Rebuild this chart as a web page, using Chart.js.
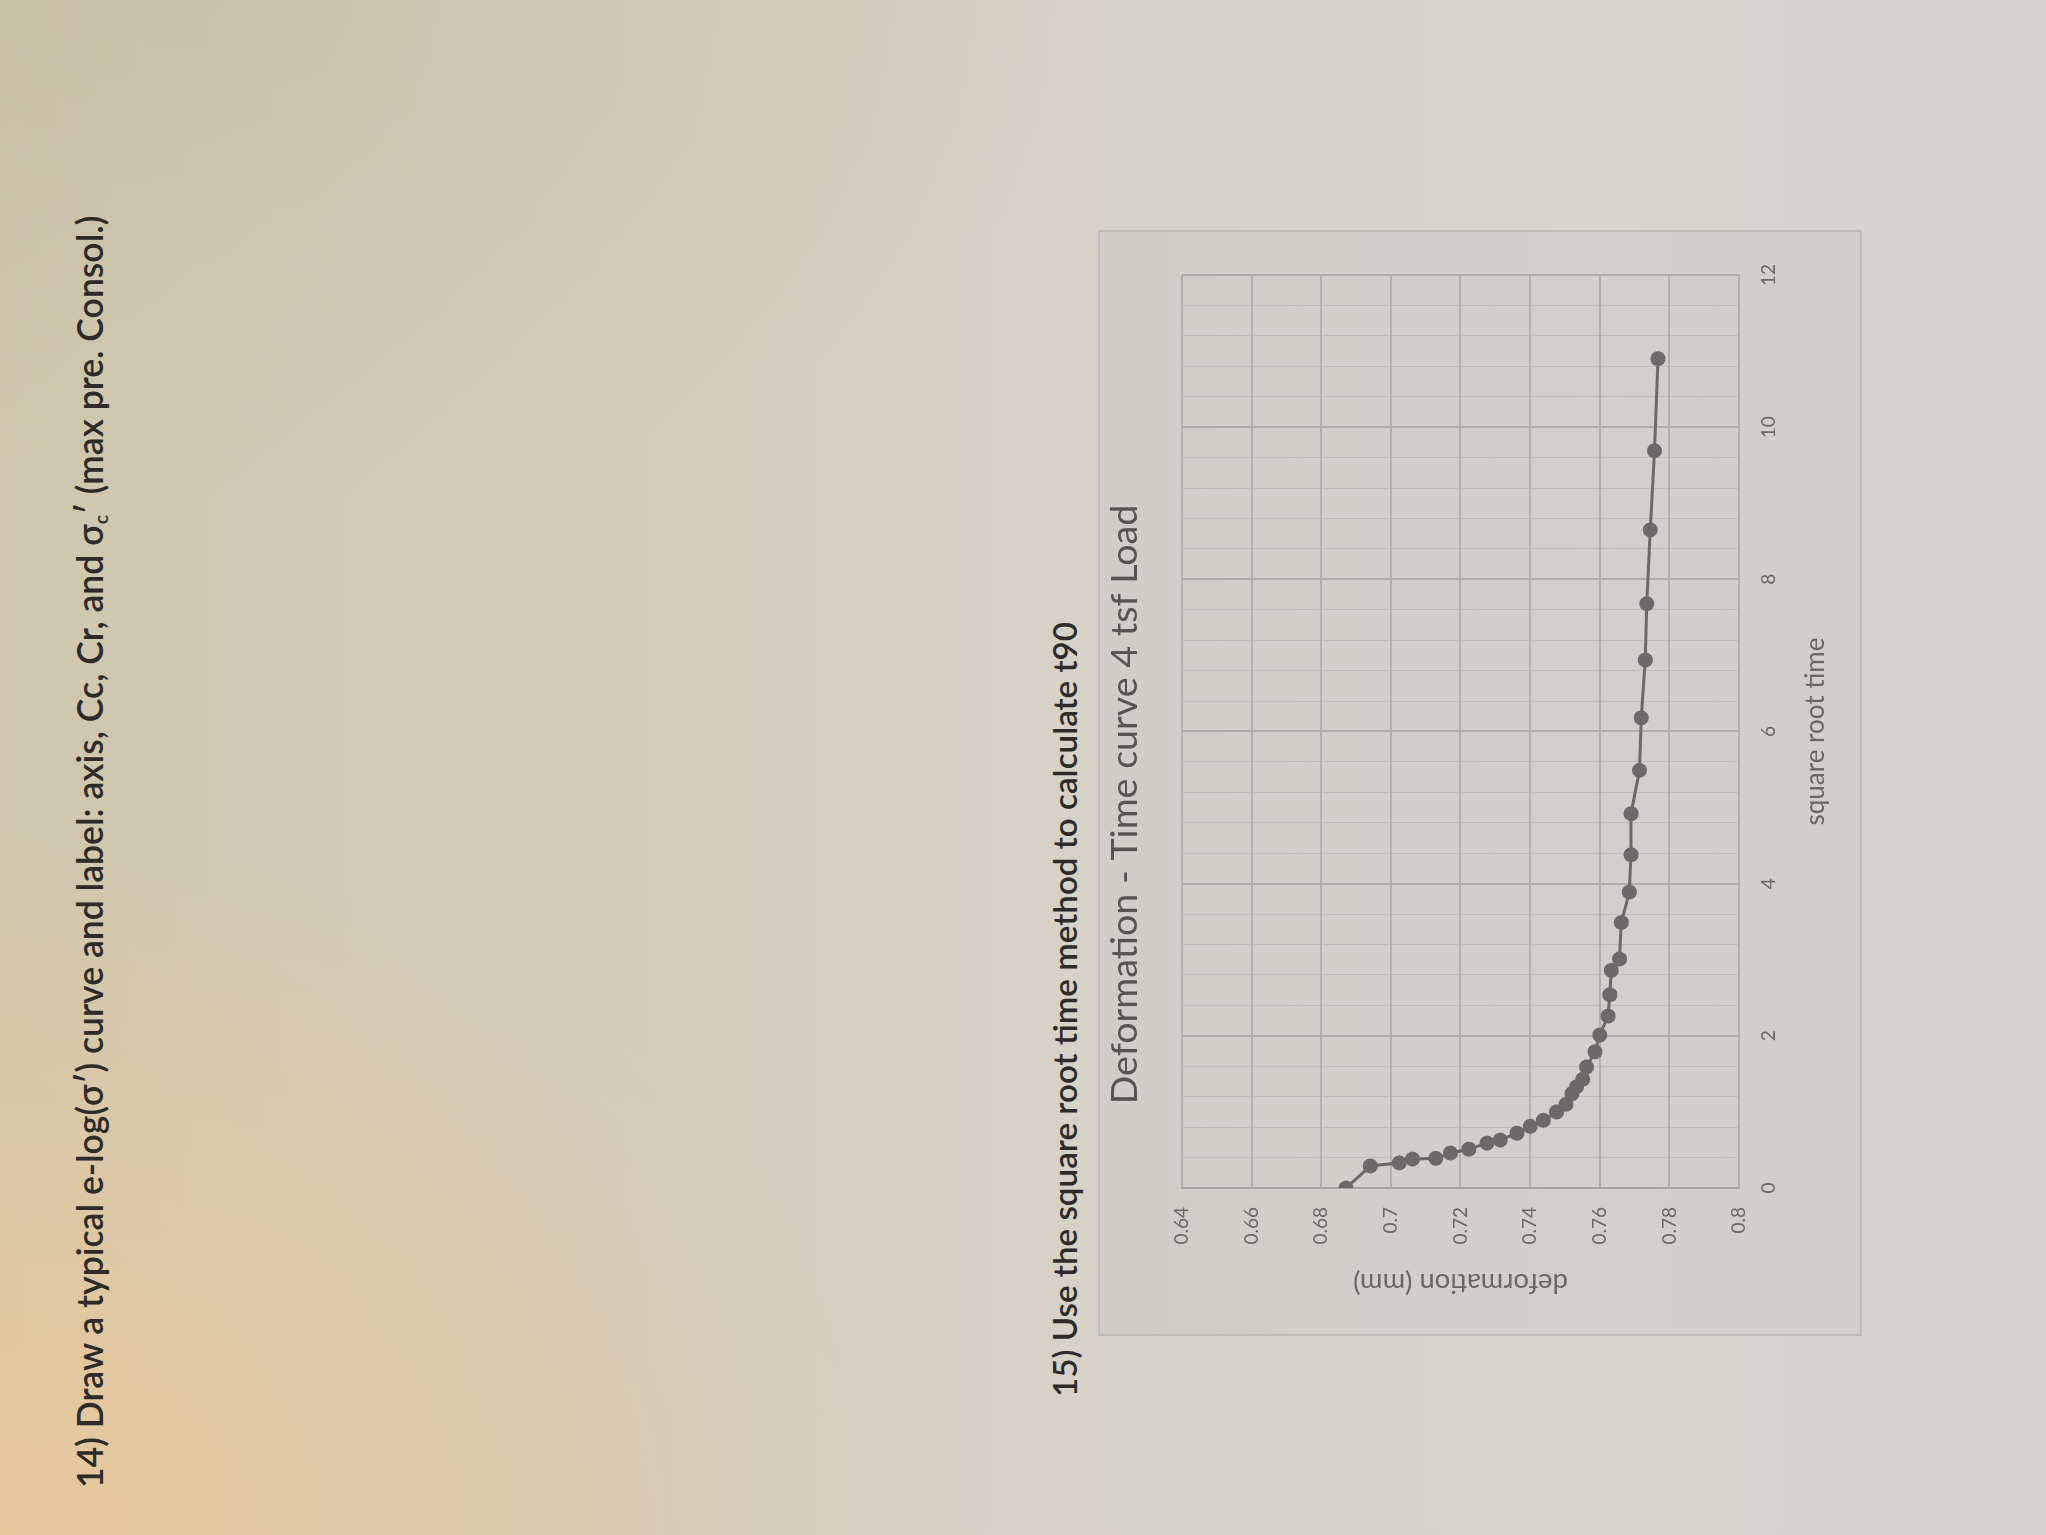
<!DOCTYPE html>
<html>
<head>
<meta charset="utf-8">
<script src="https://cdn.jsdelivr.net/npm/chart.js@4.4.1/dist/chart.umd.min.js"></script>
<style>
  html, body { margin:0; padding:0; }
  body {
    width:2046px; height:1535px; overflow:hidden; position:relative;
    background:
      radial-gradient(ellipse 900px 700px at 0px 1535px, rgba(236,200,152,0.85), rgba(236,200,152,0) 100%),
      radial-gradient(ellipse 900px 500px at 200px 0px, rgba(192,184,156,0.45), rgba(192,184,156,0) 100%),
      linear-gradient(90deg, #cfc6ad 0%, #d4cdbc 28%, #d6d2c8 52%, #d8d6d0 78%, #d5d3d1 100%);
  }
  #page {
    position:absolute; left:0; top:0; width:1535px; height:2046px;
    transform-origin:0 0; transform: translate(0, 1535px) rotate(-90deg);
  }
  .q {
    position:absolute; white-space:nowrap; display:inline-block;
    font-family: Lato, "Open Sans", sans-serif; font-weight:600; color:#2f2b28;
    transform: translateY(-50%); line-height:1.2;
  }
  .q sub { font-size:0.55em; vertical-align:-0.25em; }
  #chartBox {
    position:absolute; left:201px; top:1100px; width:1102px; height:760px;
    background: rgba(198,194,198,0.32);
    outline: 2px solid #c0bcb8;
  }
  #chartBox canvas { display:block; }
</style>
</head>
<body>
<div id="page">
  <div id="q14" class="q" style="left:47px; top:91px;">14) Draw a typical e-log(σ′) curve and label: axis, Cc, Cr, and σ<sub>c</sub>′ (max pre. Consol.)</div>
  <div id="q15" class="q" style="left:138px; top:1065px;">15) Use the square root time method to calculate t90</div>
  <div id="chartBox"><canvas id="c" width="1102" height="760"></canvas></div>
</div>
<script>
// ---- data ----
const chartTitle = 'Deformation - Time curve 4 tsf Load';
const xAxisTitle = 'square root time';
const yAxisTitle = 'deformation (mm)';

const sqrtTime = [0, 0.29, 0.33, 0.38, 0.39, 0.46, 0.51, 0.59, 0.63, 0.72, 0.81, 0.89, 1.00, 1.10, 1.24, 1.33, 1.43, 1.59, 1.79, 2.01, 2.26, 2.54, 2.86, 3.01, 3.49, 3.89, 4.38, 4.92, 5.49, 6.18, 6.94, 7.68, 8.65, 9.69, 10.90];
const deformation = [0.6871, 0.6941, 0.7024, 0.7062, 0.7129, 0.7171, 0.7224, 0.7276, 0.7314, 0.7362, 0.7400, 0.7438, 0.7476, 0.7503, 0.7520, 0.7533, 0.7551, 0.7562, 0.7586, 0.7600, 0.7624, 0.7629, 0.7633, 0.7657, 0.7662, 0.7685, 0.7690, 0.7690, 0.7714, 0.7719, 0.7731, 0.7735, 0.7745, 0.7757, 0.7767];

const timeTickValues = [0, 2, 4, 6, 8, 10, 12];
const timeTickLabels = ['0', '2', '4', '6', '8', '10', '12'];
const deformationTickValues = [0.64, 0.66, 0.68, 0.70, 0.72, 0.74, 0.76, 0.78, 0.80];
const deformationTickLabels = ['0.64', '0.66', '0.68', '0.7', '0.72', '0.74', '0.76', '0.78', '0.8'];

// ---- text fitting helpers ----
function fitHtml(id, target) {
  const el = document.getElementById(id);
  el.style.fontSize = '30px';
  const w = el.offsetWidth;
  el.style.fontSize = (30 * target / w).toFixed(2) + 'px';
}
fitHtml('q14', 1273);
fitHtml('q15', 775);

const FAMILY = 'Lato, "Open Sans", sans-serif';
const mctx = document.createElement('canvas').getContext('2d');
function fitSize(text, target) {
  mctx.font = '100px ' + FAMILY;
  return 100 * target / mctx.measureText(text).width;
}
const titleSize = fitSize(chartTitle, 600);
const xTitleSize = fitSize(xAxisTitle, 188);
const yTitleSize = fitSize(yAxisTitle, 215);

const titlePadTop = 25 - 0.6 * titleSize;
const titlePadBottom = 82 - titlePadTop - 1.2 * titleSize;

const majorGrid = '#b3afae';
const minorGrid = '#c2bebd';
const textColor = '#6a6767';
const markColor = '#6c696b';

new Chart(document.getElementById('c'), {
  type: 'scatter',
  data: {
    datasets: [{
      data: sqrtTime.map((t, i) => ({ x: t, y: deformation[i] })),
      showLine: true,
      borderColor: markColor,
      backgroundColor: markColor,
      borderWidth: 3,
      pointRadius: 7.5,
      pointHoverRadius: 7.5,
      pointBorderWidth: 0,
      xAxisID: 'x',
      yAxisID: 'y'
    }]
  },
  options: {
    responsive: false,
    animation: false,
    devicePixelRatio: 1,
    layout: { padding: { left: 0, right: 43, top: 0, bottom: 0 } },
    plugins: {
      legend: { display: false },
      tooltip: { enabled: false },
      title: {
        display: true,
        text: chartTitle,
        color: '#575554',
        font: { family: FAMILY, size: titleSize, weight: 'normal', lineHeight: 1.2 },
        padding: { top: titlePadTop, bottom: titlePadBottom }
      }
    },
    scales: {
      xMinor: {
        type: 'linear', position: 'bottom', min: 0, max: 12, z: -1,
        ticks: { display: false, stepSize: 0.4 },
        grid: { color: minorGrid, lineWidth: 1, drawTicks: false },
        border: { display: false },
        afterFit: s => { s.height = 0; }
      },
      x: {
        type: 'linear', position: 'bottom', min: 0, max: 12,
        afterBuildTicks: a => { a.ticks = timeTickValues.map(v => ({ value: v })); },
        ticks: {
          callback: (v, i) => timeTickLabels[i],
          color: textColor, padding: 18,
          font: { family: FAMILY, size: 19 }
        },
        grid: { color: majorGrid, lineWidth: 2, drawTicks: false },
        border: { color: majorGrid, width: 2 },
        title: {
          display: true, text: xAxisTitle, color: textColor,
          font: { family: FAMILY, size: xTitleSize, lineHeight: 1.2 },
          padding: { top: 0, bottom: 29 }
        },
        afterFit: s => { s.height = 121; }
      },
      y: {
        type: 'linear', position: 'left', reverse: true, min: 0.64, max: 0.80,
        afterBuildTicks: a => { a.ticks = deformationTickValues.map(v => ({ value: v })); },
        ticks: {
          callback: (v, i) => deformationTickLabels[i],
          color: textColor, padding: 19,
          font: { family: FAMILY, size: 19 }
        },
        grid: { color: majorGrid, lineWidth: 2, drawTicks: false },
        border: { color: '#a7a3a2', width: 2 },
        title: {
          display: true, text: yAxisTitle, color: textColor,
          font: { family: FAMILY, size: yTitleSize, lineHeight: 1.2 },
          padding: { top: 51 - 0.6 * yTitleSize, bottom: 0 }
        },
        afterFit: s => { s.width = 146; }
      }
    }
  }
});
</script>
</body>
</html>
